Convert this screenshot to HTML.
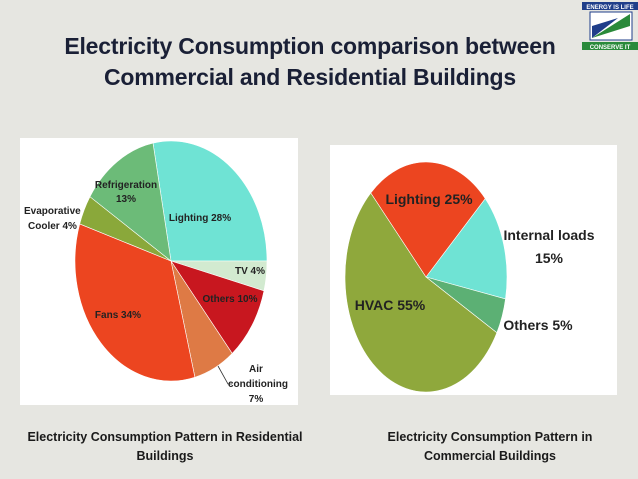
<!DOCTYPE html>
<html><head><meta charset="utf-8"><style>
body{margin:0;width:638px;height:479px;overflow:hidden;background:#e6e6e1;font-family:"Liberation Sans",sans-serif;position:relative}
.title{position:absolute;left:20px;width:580px;top:31px;text-align:center;font-weight:bold;font-size:23px;line-height:31px;color:#1a2036;letter-spacing:-0.2px}
.cap{position:absolute;font-weight:bold;font-size:12.5px;line-height:19px;text-align:center;color:#1a1a1a}
svg text{font-family:"Liberation Sans",sans-serif;font-weight:bold;font-size:10px;fill:#222}
</style></head><body>
<div class="title">Electricity Consumption comparison between<br>Commercial and Residential Buildings</div>
<svg width="60" height="48" style="position:absolute;left:582px;top:2px">
<rect x="0" y="0" width="56" height="8" fill="#1f3e8a"/><text x="28" y="7" text-anchor="middle" style="font-size:6px;fill:#fff">ENERGY IS LIFE</text>
<polygon points="8,10 50,10 50,38 8,38" fill="#fff" stroke="#1f3e8a"/>
<polygon points="10,36 48,12 48,24 10,36" fill="#2a8a3a"/><polygon points="10,36 10,24 36,16" fill="#1f3e8a"/>
<rect x="0" y="40" width="56" height="8" fill="#2a8a3a"/><text x="28" y="47" text-anchor="middle" style="font-size:6px;fill:#fff">CONSERVE IT</text>
</svg>
<svg width="638" height="479" style="position:absolute;left:0;top:0">
<rect x="20" y="138" width="278" height="267" fill="#fff"/>
<rect x="330" y="145" width="287" height="250" fill="#fff"/>
<g id="p1"></g><g id="p2"></g>
<g>
<text x="126" y="188" text-anchor="middle">Refrigeration</text><text x="126" y="202" text-anchor="middle">13%</text>
<text x="24" y="214">Evaporative</text><text x="28" y="229">Cooler 4%</text>
<text x="200" y="221" text-anchor="middle">Lighting 28%</text>
<text x="250" y="274" text-anchor="middle">TV 4%</text>
<text x="230" y="302" text-anchor="middle">Others 10%</text>
<text x="118" y="318" text-anchor="middle">Fans 34%</text>
<text x="256" y="372" text-anchor="middle">Air</text><text x="258" y="387" text-anchor="middle">conditioning</text><text x="256" y="402" text-anchor="middle">7%</text>
<path d="M218,366 L228,384 L232,384" stroke="#333" fill="none" stroke-width="0.8"/>
</g>
<g style="font-size:13px">
<text x="429" y="204" text-anchor="middle" style="font-size:14px">Lighting 25%</text>
<text x="549" y="240" text-anchor="middle" style="font-size:14px">Internal loads</text><text x="549" y="263" text-anchor="middle" style="font-size:14px">15%</text>
<text x="390" y="310" text-anchor="middle" style="font-size:14px">HVAC 55%</text>
<text x="538" y="330" text-anchor="middle" style="font-size:14px">Others 5%</text>
</g>
</svg>
<div class="cap" style="left:0;width:330px;top:428px">Electricity Consumption Pattern in Residential<br>Buildings</div>
<div class="cap" style="left:350px;width:280px;top:428px">Electricity Consumption Pattern in<br>Commercial Buildings</div>
<script>
const resCats=["Lighting","TV","Others","Air conditioning","Fans","Evaporative Cooler","Refrigeration"];
const resVals=[28,4,10,7,34,4,13];
const resColors=["#6fe3d4","#d2ead0","#c8171f","#de7a45","#ec4520","#8aa83a","#6cbb78"];
const comCats=["Internal loads","Others","HVAC","Lighting"];
const comVals=[15,5,55,25];
const comColors=["#6fe3d4","#5cb074","#8fa83c","#ec4520"];
function pie(g,cats,vals,cols,cx,cy,rx,ry,start){
 const tot=vals.reduce((a,b)=>a+b,0);let a=start;const NS="http://www.w3.org/2000/svg";
 vals.forEach((v,i)=>{const b=a+v/tot*360;
  const p=(d)=>{const r=d*Math.PI/180;return [cx+rx*Math.sin(r),cy-ry*Math.cos(r)];};
  const [x1,y1]=p(a),[x2,y2]=p(b);
  const el=document.createElementNS(NS,"path");
  el.setAttribute("d",`M${cx},${cy} L${x1},${y1} A${rx},${ry} 0 ${(b-a)>180?1:0} 1 ${x2},${y2} Z`);
  el.setAttribute("fill",cols[i]);el.setAttribute("stroke","#fff");el.setAttribute("stroke-width","0.6");
  
  
  g.appendChild(el);a=b;});
}
pie(document.getElementById("p1"),resCats,resVals,resColors,171,261,96,120,-10.8);
pie(document.getElementById("p2"),comCats,comVals,comColors,426,277,81,115,47);
</script>
</body></html>
